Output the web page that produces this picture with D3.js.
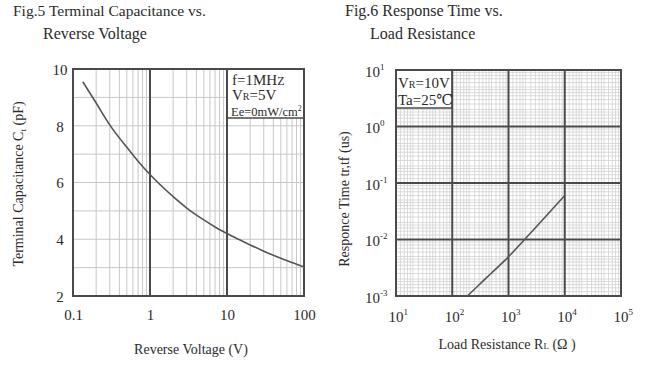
<!doctype html>
<meta charset='utf-8'>
<title>Fig.5 / Fig.6</title>
<style type="text/css">
	body { margin:0; background:#fff; }
	svg { display:block; }
	svg text { fill:#2b2b2b; font-family:"Liberation Serif", "DejaVu Serif", serif; }
</style>
<div id='container'></div>
<script src="https://cdnjs.cloudflare.com/ajax/libs/d3/7.8.5/d3.min.js" charset="utf-8"></script>
<script>

	// Fig.5 : capacitance vs reverse voltage
	var voltage     = [0.134, 0.2, 0.3, 0.55, 0.7, 1, 2, 3, 5, 7, 10, 20, 30, 50, 70, 100]
	var capacitance = [9.55, 8.8, 8.03, 7.1, 6.75, 6.28, 5.5, 5.1, 4.68, 4.43, 4.2, 3.8, 3.58, 3.33, 3.18, 3.02]
	var vTicks = [0.1, 1, 10, 100]
	var vTickLabels = ['0.1', '1', '10', '100']
	var cTicks = [2, 4, 6, 8, 10]

	// Fig.6 : response time vs load resistance
	var resistance = [186, 276, 473, 1050, 1860, 3630, 10000]
	var respTime   = [0.001, 0.00146, 0.00243, 0.0052, 0.0096, 0.0198, 0.06]
	var rExponents = [1, 2, 3, 4, 5]
	var tExponents = [-3, -2, -1, 0, 1]
	var subSteps = [1.2, 1.4, 1.6, 1.8, 2, 2.5, 3, 3.5, 4, 4.5, 5, 6, 7, 8, 9]

	var svg = d3.select('#container').append('svg')
		.attr('width', 650).attr('height', 369)

	var dark = '#4a4a4a', light = '#c8c8c8'

	function title(x, y, str, size) {
		return svg.append('text').attr('x', x).attr('y', y)
			.style('font-size', (size || 16) + 'px').text(str)
	}

	// ---------------------------------------------------- Fig.5
	title(13, 16, 'Fig.5 Terminal Capacitance vs.').style('font-size', '15.5px')
	title(43, 39, 'Reverse Voltage')

	var x5 = d3.scaleLog().domain([0.1, 100]).range([73, 304])
	var y5 = d3.scaleLinear().domain([2, 10]).range([296, 69])
	var g5 = svg.append('g')

	var minorV = []
	;[0.1, 1, 10].forEach(function(d) { for (var k = 2; k <= 9; k++) minorV.push(d * k) })
	g5.selectAll('.mv').data(minorV).join('line')
		.attr('x1', x5).attr('x2', x5).attr('y1', y5(2)).attr('y2', y5(10))
		.attr('stroke', light).attr('stroke-width', 1)
	g5.selectAll('.mh').data(d3.range(3, 10)).join('line')
		.attr('y1', y5).attr('y2', y5).attr('x1', x5(0.1)).attr('x2', x5(100))
		.attr('stroke', light).attr('stroke-width', 1)

	// legend box
	g5.append('rect').attr('x', x5(10)).attr('y', y5(10))
		.attr('width', x5(100) - x5(10)).attr('height', 49)
		.attr('fill', '#fff').attr('stroke', dark).attr('stroke-width', 1.5)

	g5.selectAll('.Mv').data([1, 10]).join('line')
		.attr('x1', x5).attr('x2', x5).attr('y1', y5(2)).attr('y2', y5(10))
		.attr('stroke', dark).attr('stroke-width', 2)

	g5.append('rect').attr('x', x5(0.1)).attr('y', y5(10))
		.attr('width', x5(100) - x5(0.1)).attr('height', y5(2) - y5(10))
		.attr('fill', 'none').attr('stroke', dark).attr('stroke-width', 2)

	var line5 = d3.line().x(function(d) { return x5(d[0]) }).y(function(d) { return y5(d[1]) })
		.curve(d3.curveMonotoneX)
	g5.append('path').datum(d3.zip(voltage, capacitance)).attr('d', line5)
		.attr('fill', 'none').attr('stroke', '#555').attr('stroke-width', 1.6)

	var ax5 = g5.append('g').attr('transform', 'translate(0,' + (y5(2) + 24) + ')')
		.call(d3.axisBottom(x5).tickValues(vTicks).tickSize(0)
			.tickFormat(function(d, i) { return vTickLabels[i] }))
	ax5.select('.domain').remove()
	ax5.selectAll('text').attr('y', 0).attr('dy', 0).style('font-size', '15px')

	var ay5 = g5.append('g').attr('transform', 'translate(60,0)')
		.call(d3.axisLeft(y5).tickValues(cTicks).tickSize(0).tickFormat(d3.format('d')))
	ay5.select('.domain').remove()
	ay5.selectAll('text').attr('x', 0).attr('dy', '0.35em').attr('text-anchor', 'middle')
		.style('font-size', '15px')

	var lg5 = g5.append('g').style('font-size', '15px')
	lg5.append('text').attr('x', 232).attr('y', 85).text('f=1MH')
		.append('tspan').style('font-size', '12px').text('Z')
	var vr5 = lg5.append('text').attr('x', 232).attr('y', 100)
	vr5.append('tspan').text('V')
	vr5.append('tspan').style('font-size', '10px').text('R')
	vr5.append('tspan').text('=5V')
	var ee = lg5.append('text').attr('x', 231).attr('y', 116).style('font-size', '12.5px')
	ee.append('tspan').text('Ee=0mW/cm')
	ee.append('tspan').attr('dy', -5).style('font-size', '8px').text('2')

	title(191, 354, 'Reverse Voltage (V)', 14).attr('text-anchor', 'middle')
	var yt5 = svg.append('text').attr('transform', 'translate(23,184) rotate(-90)')
		.attr('text-anchor', 'middle').style('font-size', '14px')
	yt5.append('tspan').text('Terminal Capacitance C')
	yt5.append('tspan').attr('dy', 3).style('font-size', '9px').text('t')
	yt5.append('tspan').attr('dy', -3).text(' (pF)')

	// ---------------------------------------------------- Fig.6
	title(345, 16, 'Fig.6 Response Time vs.')
	title(370, 39, 'Load Resistance')

	var x6 = d3.scaleLog().domain([1e1, 1e5]).range([396, 621])
	var y6 = d3.scaleLog().domain([1e-3, 1e1]).range([296, 70])
	var g6 = svg.append('g')

	var minorR = [], minorT = []
	rExponents.slice(0, -1).forEach(function(e) {
		subSteps.forEach(function(s) { minorR.push(s * Math.pow(10, e)) })
	})
	tExponents.slice(0, -1).forEach(function(e) {
		subSteps.forEach(function(s) { minorT.push(s * Math.pow(10, e)) })
	})
	g6.selectAll('.mv').data(minorR).join('line')
		.attr('x1', x6).attr('x2', x6).attr('y1', y6(1e-3)).attr('y2', y6(1e1))
		.attr('stroke', '#d2d2d2').attr('stroke-width', 0.8)
	g6.selectAll('.mh').data(minorT).join('line')
		.attr('y1', y6).attr('y2', y6).attr('x1', x6(1e1)).attr('x2', x6(1e5))
		.attr('stroke', '#d2d2d2').attr('stroke-width', 0.8)

	g6.append('rect').attr('x', x6(1e1)).attr('y', y6(1e1))
		.attr('width', x6(1e2) - x6(1e1)).attr('height', 38)
		.attr('fill', '#fff').attr('stroke', dark).attr('stroke-width', 1.5)

	g6.selectAll('.Mv').data([1e2, 1e3, 1e4]).join('line')
		.attr('x1', x6).attr('x2', x6).attr('y1', y6(1e-3)).attr('y2', y6(1e1))
		.attr('stroke', dark).attr('stroke-width', 2)
	g6.selectAll('.Mh').data([1e-2, 1e-1, 1e0]).join('line')
		.attr('y1', y6).attr('y2', y6).attr('x1', x6(1e1)).attr('x2', x6(1e5))
		.attr('stroke', dark).attr('stroke-width', 2)

	g6.append('rect').attr('x', x6(1e1)).attr('y', y6(1e1))
		.attr('width', x6(1e5) - x6(1e1)).attr('height', y6(1e-3) - y6(1e1))
		.attr('fill', 'none').attr('stroke', dark).attr('stroke-width', 2)

	var line6 = d3.line().x(function(d) { return x6(d[0]) }).y(function(d) { return y6(d[1]) })
		.curve(d3.curveMonotoneX)
	g6.append('path').datum(d3.zip(resistance, respTime)).attr('d', line6)
		.attr('fill', 'none').attr('stroke', '#555').attr('stroke-width', 1.6)

	function pow10(sel) {
		sel.each(function(d) {
			var e = Math.round(Math.log10(d))
			var t = d3.select(this).text('')
			t.append('tspan').text('10')
			t.append('tspan').attr('dy', '-0.75em').style('font-size', '9px').text(e)
		})
	}

	var ax6 = g6.append('g').attr('transform', 'translate(0,' + (y6(1e-3) + 26) + ')')
		.call(d3.axisBottom(x6).tickValues(rExponents.map(function(e) { return Math.pow(10, e) }))
			.tickSize(0))
	ax6.select('.domain').remove()
	ax6.selectAll('text').attr('y', 0).attr('dy', 0).attr('text-anchor', 'start')
		.attr('x', -8).style('font-size', '15px').call(pow10)

	var ay6 = g6.append('g').attr('transform', 'translate(365,0)')
		.call(d3.axisLeft(y6).tickValues(tExponents.map(function(e) { return Math.pow(10, e) }))
			.tickSize(0))
	ay6.select('.domain').remove()
	ay6.selectAll('text').attr('x', 0).attr('dy', '0.4em').attr('text-anchor', 'start')
		.style('font-size', '15px').call(pow10)

	var lg6 = g6.append('g').style('font-size', '15px')
	var vr6 = lg6.append('text').attr('x', 398).attr('y', 88)
	vr6.append('tspan').text('V')
	vr6.append('tspan').style('font-size', '10px').text('R')
	vr6.append('tspan').text('=10V')
	lg6.append('text').attr('x', 398).attr('y', 105).text('Ta=25\u2103')

	var xt6 = svg.append('text').attr('x', 507).attr('y', 349)
		.attr('text-anchor', 'middle').style('font-size', '14px')
	xt6.append('tspan').text('Load Resistance R')
	xt6.append('tspan').style('font-size', '9px').text('L')
	xt6.append('tspan').text(' (\u03a9 )')

	svg.append('text').attr('transform', 'translate(349,199) rotate(-90)')
		.attr('text-anchor', 'middle').style('font-size', '14px')
		.text('Responce Time tr,tf (us)')

</script>
